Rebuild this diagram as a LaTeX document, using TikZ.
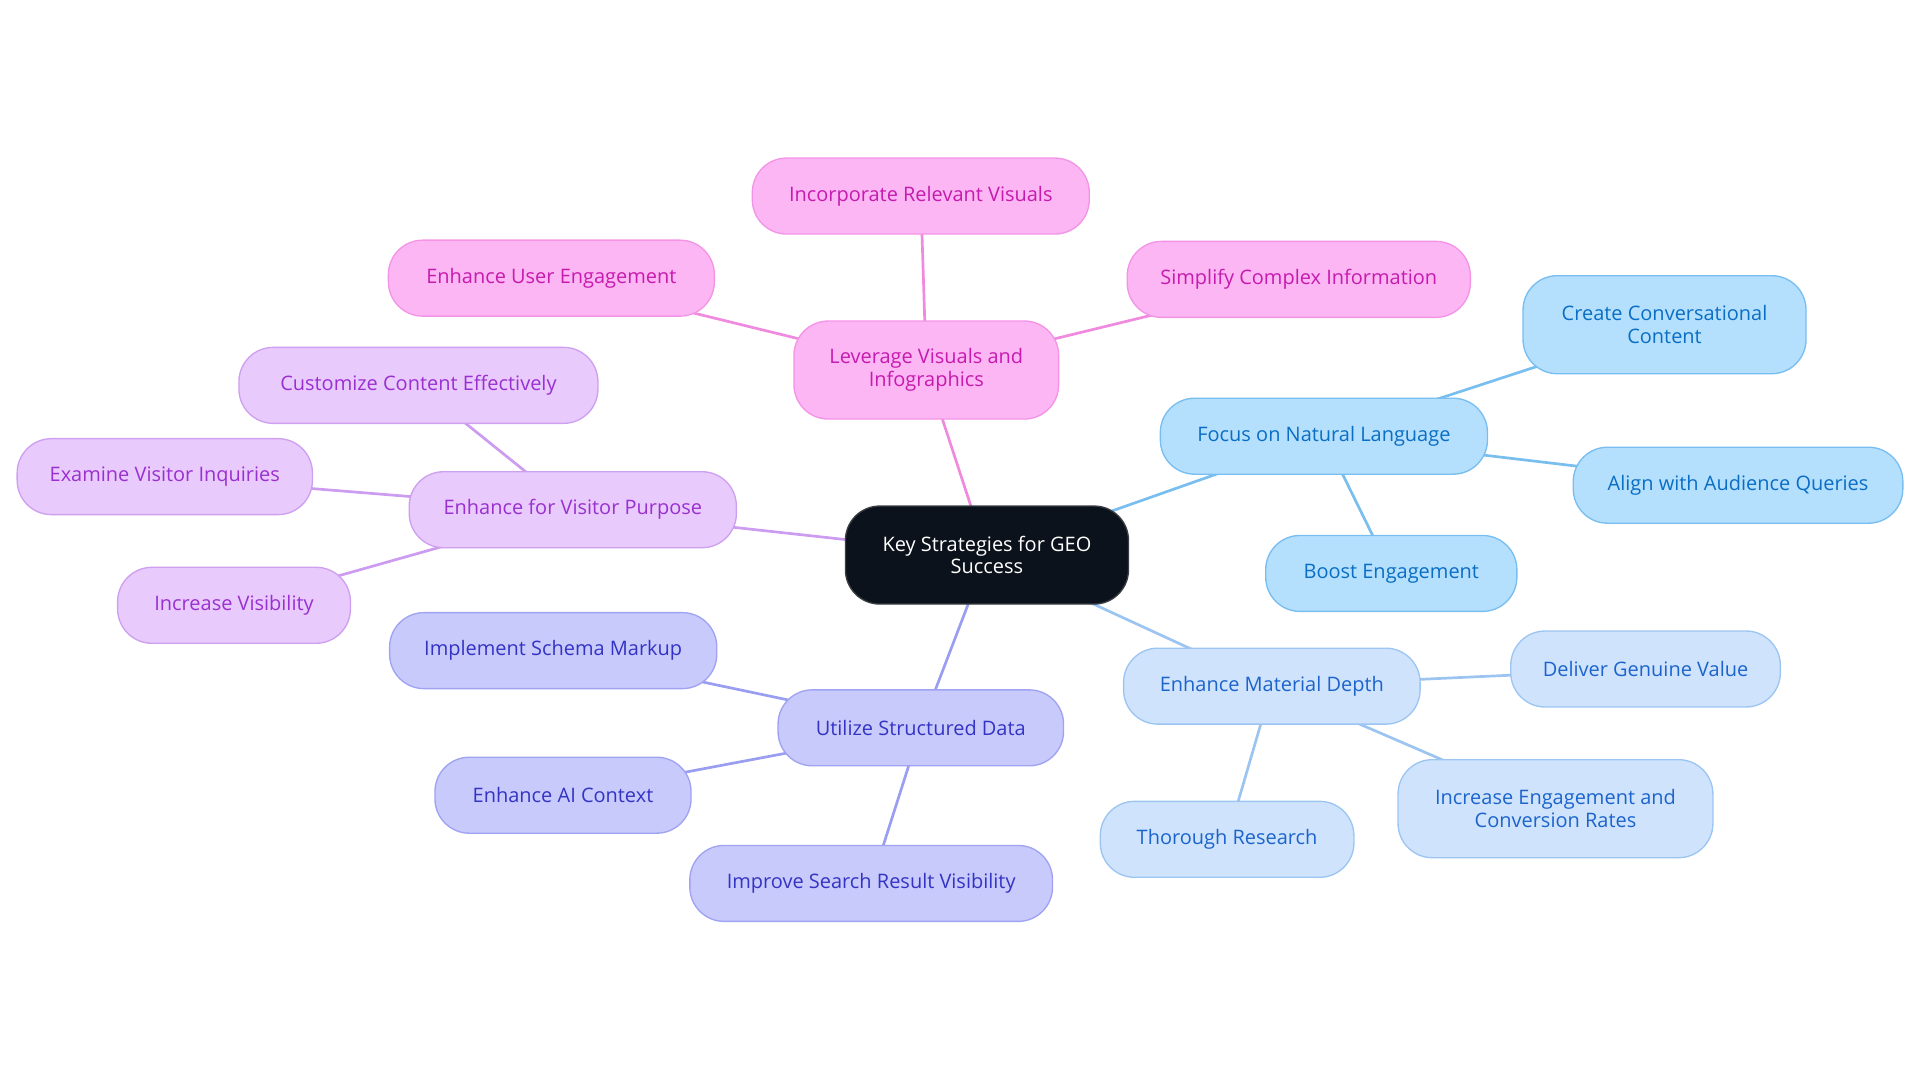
\documentclass[tikz,border=0pt]{standalone}
\usepackage{fontspec}
\setmainfont{Open Sans}
\usetikzlibrary{backgrounds}
\definecolor{pkF}{HTML}{FDB6F4}\definecolor{pkS}{HTML}{F394E6}\definecolor{pkT}{HTML}{C51BAE}\definecolor{pkE}{HTML}{F08ADF}
\definecolor{lbF}{HTML}{B4E0FD}\definecolor{lbS}{HTML}{79BEF0}\definecolor{lbT}{HTML}{0A6EC4}\definecolor{lbE}{HTML}{78BEEE}
\definecolor{pbF}{HTML}{CFE4FC}\definecolor{pbS}{HTML}{9DC5F2}\definecolor{pbT}{HTML}{1C64CC}\definecolor{pbE}{HTML}{9CC4F0}
\definecolor{prF}{HTML}{C8CAFC}\definecolor{prS}{HTML}{9FA3F2}\definecolor{prT}{HTML}{3434C4}\definecolor{prE}{HTML}{9A9EF0}
\definecolor{lvF}{HTML}{E8CAFC}\definecolor{lvS}{HTML}{CFA0F0}\definecolor{lvT}{HTML}{9A30D0}\definecolor{lvE}{HTML}{CC9CF0}
\definecolor{ctF}{HTML}{0C121B}\definecolor{ctS}{HTML}{3A3E44}
\tikzset{
  box/.style={rectangle, rounded corners=28pt, line width=1.1pt, inner sep=0pt, align=center,
    minimum height=62pt, font=\fontsize{16.3}{18.5}\selectfont},
  tall/.style={minimum height=80pt},
  pk/.style={box, fill=pkF, draw=pkS, text=pkT},
  lb/.style={box, fill=lbF, draw=lbS, text=lbT},
  pb/.style={box, fill=pbF, draw=pbS, text=pbT},
  pr/.style={box, fill=prF, draw=prS, text=prT},
  lv/.style={box, fill=lvF, draw=lvS, text=lvT},
  ct/.style={box, tall, fill=ctF, draw=ctS, text=white},
  link/.style={line width=2.2pt},
}
\begin{document}
\begin{tikzpicture}[x=1pt,y=-1pt]
\useasboundingbox (0,0) rectangle (1567,884);
\node[ct, minimum width=231pt] (c) at (805.5,453) {Key Strategies for GEO\\Success};
\node[pk, tall, minimum width=216pt] (lev) at (756,302) {Leverage Visuals and\\Infographics};
\node[pk, minimum width=275pt] (inc) at (751.5,160) {Incorporate Relevant Visuals};
\node[pk, minimum width=266pt] (eue) at (450,227) {Enhance User Engagement};
\node[pk, minimum width=280pt] (sci) at (1060,228) {Simplify Complex Information};
\node[lb, minimum width=267pt] (fnl) at (1080.5,356) {Focus on Natural Language};
\node[lb, tall, minimum width=231pt] (ccc) at (1358.5,265) {Create Conversational\\Content};
\node[lb, minimum width=269pt] (aaq) at (1418.5,396) {Align with Audience Queries};
\node[lb, minimum width=205pt] (be) at (1135.5,468) {Boost Engagement};
\node[pb, minimum width=242pt] (emd) at (1038,560) {Enhance Material Depth};
\node[pb, minimum width=220pt] (dgv) at (1343,546) {Deliver Genuine Value};
\node[pb, tall, minimum width=257pt] (iec) at (1269.5,660) {Increase Engagement and\\Conversion Rates};
\node[pb, minimum width=207pt] (tr) at (1001.5,685) {Thorough Research};
\node[pr, minimum width=233pt] (usd) at (751.5,594) {Utilize Structured Data};
\node[pr, minimum width=267pt] (ism) at (451.5,531) {Implement Schema Markup};
\node[pr, minimum width=209pt] (eac) at (459.5,649) {Enhance AI Context};
\node[pr, minimum width=296pt] (isr) at (711,721) {Improve Search Result Visibility};
\node[lv, minimum width=267pt] (evp) at (467.5,416) {Enhance for Visitor Purpose};
\node[lv, minimum width=293pt] (cce) at (341.5,314.5) {Customize Content Effectively};
\node[lv, minimum width=241pt] (evi) at (134.5,389) {Examine Visitor Inquiries};
\node[lv, minimum width=190pt] (iv) at (191,494) {Increase Visibility};
\begin{pgfonlayer}{background}
\draw[link,pkE] (c.center) -- (lev.center); \draw[link,pkE] (lev.center) -- (inc.center); \draw[link,pkE] (lev.center) -- (eue.center); \draw[link,pkE] (lev.center) -- (sci.center);
\draw[link,lbE] (c.center) -- (fnl.center); \draw[link,lbE] (fnl.center) -- (ccc.center); \draw[link,lbE] (fnl.center) -- (aaq.center); \draw[link,lbE] (fnl.center) -- (be.center);
\draw[link,pbE] (c.center) -- (emd.center); \draw[link,pbE] (emd.center) -- (dgv.center); \draw[link,pbE] (emd.center) -- (iec.center); \draw[link,pbE] (emd.center) -- (tr.center);
\draw[link,prE] (c.center) -- (usd.center); \draw[link,prE] (usd.center) -- (ism.center); \draw[link,prE] (usd.center) -- (eac.center); \draw[link,prE] (usd.center) -- (isr.center);
\draw[link,lvE] (c.center) -- (evp.center); \draw[link,lvE] (evp.center) -- (cce.center); \draw[link,lvE] (evp.center) -- (evi.center); \draw[link,lvE] (evp.center) -- (iv.center);
\end{pgfonlayer}
\end{tikzpicture}
\end{document}
